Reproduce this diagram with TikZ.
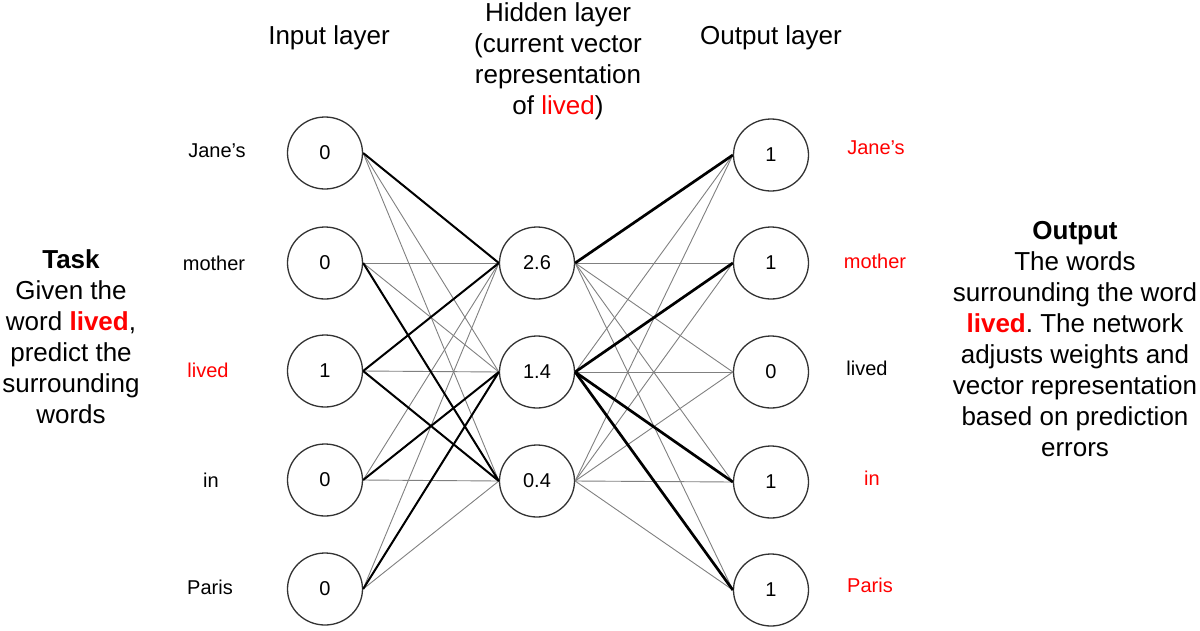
\documentclass[tikz,border=0pt]{standalone}
\usepackage{fontspec}
\setmainfont{Liberation Sans}
\usepackage{tikz}
\usetikzlibrary{shapes.geometric}
\usetikzlibrary{positioning}
\usepackage{xcolor}
\definecolor{wordred}{RGB}{255,0,0}
\definecolor{weakgray}{RGB}{128,128,128}
\frenchspacing

\tikzset{
  neuron/.style={draw=black!80, ellipse, line width=1.3pt, minimum width=75pt,
    minimum height=72pt, inner sep=0pt, font=\fontsize{20}{24}\selectfont},
  word/.style={font=\fontsize{20}{24}\selectfont},
  title/.style={font=\fontsize{26}{31}\selectfont, align=center},
  weak/.style={draw=weakgray, line width=0.9pt},
  strong/.style={draw=black, line width=2pt},
  stronger/.style={draw=black, line width=2.7pt},
}

\begin{document}
\begin{tikzpicture}[x=1pt,y=-1pt]
\useasboundingbox (0,0) rectangle (1200,630);

% input layer
\node[neuron] (in1) at (325,153) {0};
\node[neuron] (in2) at (325,263) {0};
\node[neuron] (in3) at (325,371) {1};
\node[neuron] (in4) at (325,480) {0};
\node[neuron] (in5) at (325,589) {0};

% hidden layer
\node[neuron] (hid1) at (537,263) {2.6};
\node[neuron] (hid2) at (537,372) {1.4};
\node[neuron] (hid3) at (537,481) {0.4};

% output layer
\node[neuron] (out1) at (771,155) {1};
\node[neuron] (out2) at (771,263) {1};
\node[neuron] (out3) at (771,372) {0};
\node[neuron] (out4) at (771,482) {1};
\node[neuron] (out5) at (771,590) {1};

% weights
\foreach \i in {1,...,5}
  \foreach \j in {1,2,3}
    \draw[weak] (in\i.east) -- (hid\j.west);
\foreach \j in {1,2,3}
  \foreach \i in {1,...,5}
    \draw[weak] (hid\j.east) -- (out\i.west);
\foreach \i/\j in {1/1,2/3,3/1,3/3,4/2,5/2}
  \draw[strong] (in\i.east) -- (hid\j.west);
\foreach \j/\i in {1/1,2/2,2/4,2/5}
  \draw[stronger] (hid\j.east) -- (out\i.west);

% words
\node[word] (wIn1) at (217,151) {Jane’s};
\node[word] (wIn2) at (214,263) {mother};
\node[word, text=wordred] (wIn3) at (208,370) {lived};
\node[word] (wIn4) at (211,480) {in};
\node[word] (wIn5) at (210,587) {Paris};

\node[word, text=wordred] (wOut1) at (876,148) {Jane’s};
\node[word, text=wordred] (wOut2) at (875,261) {mother};
\node[word] (wOut3) at (867,368) {lived};
\node[word, text=wordred] (wOut4) at (872,478) {in};
\node[word, text=wordred] (wOut5) at (870,585) {Paris};

% titles
\node[title] (tIn) at (329,38) {Input layer};
\node[title] (tHid) at (558,61) {Hidden layer\\(current vector\\representation\\of \textcolor{wordred}{lived})};
\node[title] (tOut) at (771,38) {Output layer};

\node[title] (task) at (71,337) {\textbf{Task}\\Given the\\word \textcolor{wordred}{\textbf{lived}},\\predict the\\surrounding\\words};
\node[title] (result) at (1075,339) {\textbf{Output}\\The words\\surrounding the word\\\textcolor{wordred}{\textbf{lived}}. The network\\adjusts weights and\\vector representation\\based on prediction\\errors};

\end{tikzpicture}
\end{document}
